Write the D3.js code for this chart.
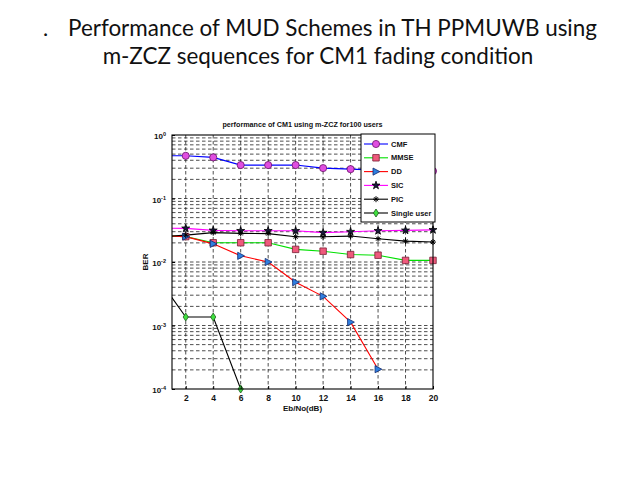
<!DOCTYPE html>
<html><head><meta charset="utf-8">
<script src="https://cdn.jsdelivr.net/npm/d3@7"></script>
<style>body{margin:0;background:#fff}svg{display:block}</style>
</head><body>
<svg id="c" width="638" height="478"></svg>
<script>
const titleLines = ["Performance of MUD Schemes in TH PPMUWB using", "m-ZCZ sequences for CM1 fading condition"];
const chartTitle = "performance of CM1 using m-ZCZ for100 users";
const xLabel = "Eb/No(dB)";
const yLabel = "BER";
const ebno = [0, 2, 4, 6, 8, 10, 12, 14, 16, 18, 20];
const xTicks = [2, 4, 6, 8, 10, 12, 14, 16, 18, 20];
const yTicks = [1, 0.1, 0.01, 0.001, 0.0001];
const yTickExp = ["0", "-1", "-2", "-3", "-4"];
const seriesNames = ["CMF", "MMSE", "DD", "SIC", "PIC", "Single user"];
const cmf = [0.47, 0.47, 0.444, 0.336, 0.336, 0.336, 0.301, 0.29, 0.28, 0.275, 0.27];
const mmse = [0.026, 0.0251, 0.0201, 0.0201, 0.0201, 0.0158, 0.0148, 0.0131, 0.0128, 0.0106, 0.0106];
const dd = [0.026, 0.0251, 0.0193, 0.0125, 0.0100, 0.0048, 0.00288, 0.00113, 0.000205, null, null];
const sic = [0.034, 0.0339, 0.0315, 0.031, 0.031, 0.031, 0.029, 0.030, 0.031, 0.0315, 0.032];
const pic = [0.0248, 0.0265, 0.029, 0.0282, 0.028, 0.025, 0.025, 0.0256, 0.0233, 0.0213, 0.0206];
const single = [0.0055, 0.00136, 0.00136, 0.0001, null, null, null, null, null, null, null];

const seriesValues = [cmf, mmse, dd, sic, pic, single];
const lineColors = ["#0000ff", "#00e000", "#ff0000", "#ff00ff", "#000000", "#000000"];
const markerFill = ["#e04ee0", "#ee5a7c", "#2f7fe0", "#1a1a40", "none", "#3fe03f"];
const markerStroke = ["#6a106a", "#7a1f35", "#102a70", "#000000", "#000000", "#1d5a1d"];

const svg = d3.select("#c");
const px0 = 172, px1 = 433, py0 = 135, py1 = 389;
const x = d3.scaleLinear().domain([1, 20]).range([px0, px1]);
const y = d3.scaleLog().domain([1e-4, 1]).range([py1, py0]);

// slide heading
const hFont = "Lato, 'Open Sans', sans-serif";
svg.append("text").attr("x", 43).attr("y", 36).attr("font-family", hFont)
  .attr("font-size", 22).attr("fill", "#111").text(".");
const t1 = svg.append("text").attr("x", 68).attr("y", 36).attr("font-family", hFont)
  .attr("font-size", 22).attr("fill", "#111").text(titleLines[0]);
const w1 = t1.node().getComputedTextLength();
const fs = 22 * 529 / w1;
t1.attr("font-size", fs);
svg.append("text").attr("x", 318).attr("y", 64).attr("text-anchor", "middle")
  .attr("font-family", hFont).attr("font-size", fs).attr("fill", "#111").text(titleLines[1]);

const cFont = "'Liberation Sans', Arial, sans-serif";
// grid
const grid = svg.append("g").attr("stroke", "#222").attr("stroke-width", 0.8)
  .attr("stroke-dasharray", "3.5,2.5").attr("fill", "none");
xTicks.filter(v => v < 20).forEach(v => {
  grid.append("line").attr("x1", x(v)).attr("x2", x(v)).attr("y1", py0).attr("y2", py1);
});
const yGrid = [];
for (let k = -4; k < 0; k++) for (let m = 1; m <= 9; m++) {
  const v = m * Math.pow(10, k);
  if (v > 1e-4 * 1.0001) yGrid.push(v);
}
yGrid.forEach(v => {
  grid.append("line").attr("x1", px0).attr("x2", px1).attr("y1", y(v)).attr("y2", y(v));
});

// clip
svg.append("clipPath").attr("id", "pc").append("rect")
  .attr("x", px0).attr("y", py0).attr("width", px1 - px0).attr("height", py1 - py0);

const line = d3.line().defined(d => d.v != null).x(d => x(d.x)).y(d => y(d.v));
const seriesData = seriesValues.map(vals => ebno.map((e, i) => ({x: e, v: vals[i]})));

const lines = svg.append("g").attr("clip-path", "url(#pc)");
seriesData.forEach((d, i) => {
  lines.append("path").attr("d", line(d)).attr("fill", "none")
    .attr("stroke", lineColors[i]).attr("stroke-width", 1.1);
});

function markerPath(i) {
  if (i === 0) return d3.symbol(d3.symbolCircle, 40)();
  if (i === 1) return d3.symbol(d3.symbolSquare, 42)();
  if (i === 2) return "M-3,-3.6L3.8,0L-3,3.6Z";
  if (i === 3) return d3.symbol(d3.symbolStar, 20)();
  if (i === 4) return "M-3,0L3,0M0,-3L0,3M-2,-2L2,2M-2,2L2,-2";
  return "M0,-4L2.6,0L0,4L-2.6,0Z";
}
function drawMarker(g, i, cx, cy) {
  g.append("path").attr("d", markerPath(i)).attr("transform", `translate(${cx},${cy})`)
    .attr("fill", markerFill[i]).attr("stroke", markerStroke[i]).attr("stroke-width", i === 4 ? 1 : 0.8);
}
const marks = svg.append("g");
seriesData.forEach((d, i) => {
  d.filter(p => p.v != null && p.x >= 1).forEach(p => drawMarker(marks, i, x(p.x), y(p.v)));
});

// axes box
svg.append("rect").attr("x", px0).attr("y", py0).attr("width", px1 - px0).attr("height", py1 - py0)
  .attr("fill", "none").attr("stroke", "#000").attr("stroke-width", 1.1);

const xAxis = svg.append("g").attr("transform", `translate(0,${py1})`)
  .call(d3.axisBottom(x).tickValues(xTicks).tickSize(-3).tickPadding(6).tickFormat(d3.format("d")));
xAxis.select(".domain").remove();
xAxis.selectAll("text").attr("font-family", cFont).attr("font-size", 8.5).attr("font-weight", "bold").attr("fill", "#111");

const yAxis = svg.append("g").attr("transform", `translate(${px0},0)`)
  .call(d3.axisLeft(y).tickValues(yTicks).tickSize(-3).tickPadding(8).tickFormat(() => "10"));
yAxis.select(".domain").remove();
yAxis.selectAll(".tick text").each(function(d, i) {
  const t = d3.select(this);
  t.attr("font-family", cFont).attr("font-size", 8).attr("font-weight", "bold").attr("fill", "#111")
    .attr("x", -6).attr("dy", "0.45em");
  t.append("tspan").attr("dy", "-0.55em").attr("font-size", 5.5).text(yTickExp[i]);
});

svg.append("text").attr("x", (px0 + px1) / 2).attr("y", 127).attr("text-anchor", "middle")
  .attr("font-family", cFont).attr("font-size", 7.2).attr("font-weight", "bold").attr("fill", "#111").text(chartTitle);
svg.append("text").attr("x", (px0 + px1) / 2).attr("y", 411).attr("text-anchor", "middle")
  .attr("font-family", cFont).attr("font-size", 8).attr("font-weight", "bold").attr("fill", "#111").text(xLabel);
svg.append("text").attr("transform", `translate(148,${(py0 + py1) / 2}) rotate(-90)`).attr("text-anchor", "middle")
  .attr("font-family", cFont).attr("font-size", 8).attr("font-weight", "bold").attr("fill", "#111").text(yLabel);

// legend
const lg = svg.append("g");
lg.append("rect").attr("x", 361).attr("y", 134).attr("width", 74).attr("height", 88)
  .attr("fill", "#fff").attr("stroke", "#000").attr("stroke-width", 1);
seriesNames.forEach((n, i) => {
  const ly = 144 + i * 13.8;
  lg.append("line").attr("x1", 364).attr("x2", 388).attr("y1", ly).attr("y2", ly)
    .attr("stroke", lineColors[i]).attr("stroke-width", 1.1);
  drawMarker(lg, i, 376, ly);
  lg.append("text").attr("x", 391).attr("y", ly).attr("dy", "0.35em")
    .attr("font-family", cFont).attr("font-size", 7.5).attr("font-weight", "bold").attr("fill", "#111").text(n);
});
</script>
</body></html>
